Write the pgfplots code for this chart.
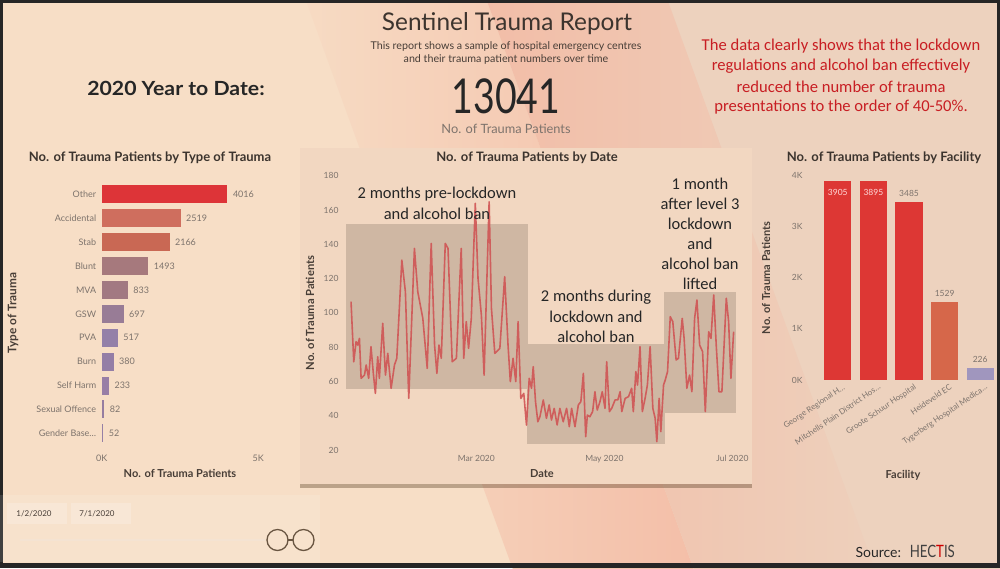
\documentclass[border=0pt]{standalone}
\usepackage{pgfplots}
\pgfplotsset{compat=1.18}
\usepackage{fontspec}
\setmainfont{Lato}
\newfontfamily\calfont{Carlito}
\usetikzlibrary{shadows}
\definecolor{bg}{RGB}{247,222,198}
\definecolor{bgr}{RGB}{237,210,190}
\definecolor{pinkc}{RGB}{243,186,164}
\definecolor{cardc}{RGB}{242,215,193}
\definecolor{rectc}{RGB}{207,183,163}
\definecolor{linec}{RGB}{208,85,85}
\definecolor{titlec}{RGB}{60,52,46}
\definecolor{tickc}{RGB}{125,115,108}
\definecolor{labc}{RGB}{72,62,55}
\definecolor{redtext}{RGB}{200,30,35}
\definecolor{cA}{RGB}{221,52,56}
\definecolor{cB}{RGB}{207,110,94}
\definecolor{cC}{RGB}{201,104,84}
\definecolor{cD}{RGB}{166,121,125}
\definecolor{cE}{RGB}{162,121,130}
\definecolor{cF}{RGB}{152,124,150}
\definecolor{cG}{RGB}{148,128,168}
\definecolor{cH}{RGB}{148,126,166}
\definecolor{cI}{RGB}{152,126,166}
\definecolor{cJ}{RGB}{150,125,160}
\definecolor{cK}{RGB}{150,128,165}
\definecolor{fR}{RGB}{221,55,52}
\definecolor{fO}{RGB}{214,103,74}
\definecolor{fP}{RGB}{160,150,190}
\definecolor{sliderc}{RGB}{105,85,65}
\begin{document}
\begin{tikzpicture}[x=1pt,y=1pt]
\useasboundingbox (0,0) rectangle (1000,-568);
% background
\fill[bg] (0,0) rectangle (1000,-568);
\begin{scope}
\clip (0,0) rectangle (1000,-568);
\begin{scope}[shift={(590,-284)},rotate=20]
  \fill[bgr] (0,-500) rectangle (700,500);
  \shade[left color=bg, right color=pinkc] (-170,-500) rectangle (0,500);
  \shade[left color=pinkc, right color=bgr] (0,-500) rectangle (170,500);
\end{scope}
\end{scope}
% frame
\draw[black!85, line width=3pt] (1.5,-1.5) rectangle (998.5,-566);
\fill[black!85] (0,-563) rectangle (1000,-568);

% header texts
\node[font=\fontsize{24.4}{27}\selectfont, text=titlec] at (507,-24) {Sentinel Trauma Report};
\node[font=\fontsize{10.7}{12}\selectfont, text=labc] at (506,-47) {This report shows a sample of hospital emergency centres};
\node[font=\fontsize{10.7}{12}\selectfont, text=labc] at (506,-59) {and their trauma patient numbers over time};
\node[font=\bfseries\fontsize{19.5}{22}\selectfont, text=black!85, xscale=1.09] at (176,-88) {2020 Year to Date:};
\node[font=\fontsize{48}{50}\selectfont, text=black!85, xscale=0.78] at (506,-96) {13041};
\node[font=\fontsize{12.8}{14}\selectfont, text=tickc] at (506,-129) {No. of Trauma Patients};
\node[font=\calfont\fontsize{16.6}{18}\selectfont, text=redtext] at (841,-46) {The data clearly shows that the lockdown};
\node[font=\calfont\fontsize{16.6}{18}\selectfont, text=redtext] at (841,-66) {regulations and alcohol ban effectively};
\node[font=\calfont\fontsize{16.6}{18}\selectfont, text=redtext] at (841,-87) {reduced the number of trauma};
\node[font=\calfont\fontsize{16.6}{18}\selectfont, text=redtext] at (841,-107) {presentations to the order of 40-50\%.};

% panel titles
\node[font=\bfseries\fontsize{13}{15}\selectfont, text=titlec] at (150,-158) {No. of Trauma Patients by Type of Trauma};
\node[font=\bfseries\fontsize{13}{15}\selectfont, text=titlec] at (884,-158) {No. of Trauma Patients by Facility};

% ---------- left chart ----------
\begin{axis}[
  at={(101.7pt,-445.25pt)}, anchor=south west, scale only axis,
  width=156.6pt, height=262.9pt,
  xbar, bar shift=0pt, bar width=18pt,
  xmin=0, xmax=5000, ymin=-0.5, ymax=10.5,
  axis line style={draw=none}, major tick length=0pt,
  xtick={0,5000}, xticklabels={0K,5K},
  ytick={0,1,2,3,4,5,6,7,8,9,10},
  yticklabels={{Gender Base\ldots},{Sexual Offence},{Self Harm},{Burn},{PVA},{GSW},{MVA},{Blunt},{Stab},{Accidental},{Other}},
  ticklabel style={font=\fontsize{9}{10}\selectfont, text=tickc},
  yticklabel style={xshift=-2pt},
  xticklabel style={yshift=-6pt},
  point meta=explicit symbolic,
  nodes near coords,
  nodes near coords style={font=\fontsize{9}{10}\selectfont, text=tickc, anchor=west, xshift=2pt},
  clip=false,
]
\addplot[fill=cA, draw=none] coordinates {(4016,10) [4016]};
\addplot[fill=cB, draw=none] coordinates {(2519,9) [2519]};
\addplot[fill=cC, draw=none] coordinates {(2166,8) [2166]};
\addplot[fill=cD, draw=none] coordinates {(1493,7) [1493]};
\addplot[fill=cE, draw=none] coordinates {(833,6) [833]};
\addplot[fill=cF, draw=none] coordinates {(697,5) [697]};
\addplot[fill=cG, draw=none] coordinates {(517,4) [517]};
\addplot[fill=cH, draw=none] coordinates {(380,3) [380]};
\addplot[fill=cI, draw=none] coordinates {(233,2) [233]};
\addplot[fill=cJ, draw=none] coordinates {(82,1) [82]};
\addplot[fill=cK, draw=none] coordinates {(52,0) [52]};
\end{axis}
\node[font=\bfseries\fontsize{11.8}{13}\selectfont, text=labc, rotate=90] at (13,-313) {Type of Trauma};
\node[font=\bfseries\fontsize{11}{13}\selectfont, text=labc] at (180,-473) {No. of Trauma Patients};

% ---------- center card ----------
\fill[cardc, drop shadow={shadow xshift=0pt, shadow yshift=-4pt, opacity=0.35, fill=black!60!brown}] (300,-148) rectangle (752,-484);
\node[font=\bfseries\fontsize{13}{15}\selectfont, text=titlec] at (527,-158) {No. of Trauma Patients by Date};
\begin{axis}[
  at={(346pt,-450pt)}, anchor=south west, scale only axis,
  width=391pt, height=274.3pt,
  xmin=-2.1, xmax=184.2, ymin=20, ymax=180,
  axis line style={draw=none}, major tick length=0pt,
  ytick={20,40,60,80,100,120,140,160,180},
  xtick={60,121,182}, xticklabels={Mar 2020, May 2020, Jul 2020},
  /pgf/number format/assume math mode=true,
  ticklabel style={font=\fontsize{8.5}{10}\selectfont, text=tickc},
  yticklabel style={xshift=-4pt},
  xticklabel style={yshift=-2pt},
]
\addplot[fill=rectc, draw=none] coordinates {(-2.1,55.3)(84.4,55.3)(84.4,151.6)(-2.1,151.6)} -- cycle;
\addplot[fill=rectc, draw=none] coordinates {(83.9,23.4)(150.0,23.4)(150.0,81.6)(83.9,81.6)} -- cycle;
\addplot[fill=rectc, draw=none] coordinates {(149.5,41.6)(183.9,41.6)(183.9,112.3)(149.5,112.3)} -- cycle;
\addplot[linec, line width=1.6pt, line join=round, opacity=0.9] coordinates {
(0.3,106.5)(1.6,71.5)(2.7,83.2)(3.5,81.2)(4.3,85.1)(5.1,61.8)(6.7,63.7)(7.5,69.6)(8.7,61.8)(9.8,80.3)
(11.0,63.7)(11.9,53.0)(13.0,74.4)(13.8,61.8)(15.4,93.9)(16.7,63.7)(17.8,76.4)(19.4,56.0)(21.0,69.6)(22.1,73.5)
(24.5,130.8)(26.2,112.3)(27.8,50.1)(30.5,137.6)(32.1,112.3)(34.5,96.8)(36.6,67.6)(38.5,140.5)(40.1,81.2)(41.2,64.7)
(42.2,81.2)(43.3,73.5)(45.2,140.5)(46.5,137.6)(48.5,71.5)(50.5,73.5)(52.8,137.6)(54.0,73.5)(55.2,94.9)(56.3,79.3)
(57.6,96.8)(59.5,163.9)(60.8,120.1)(62.4,98.7)(63.7,63.7)(66.1,164.8)(67.2,102.6)(68.8,76.4)(71.2,79.3)(73.5,121.1)
(75.1,81.2)(76.2,59.9)(77.5,73.5)(78.8,59.9)(79.9,94.9)(81.2,50.1)(82.6,53.0)(83.9,34.6)(85.2,61.8)(86.3,56.0)
(87.1,68.6)(88.2,48.2)(89.3,36.5)(90.3,39.4)(91.9,49.2)(93.4,38.5)(94.7,46.3)(95.8,37.5)(97.1,44.3)(98.5,34.6)
(99.8,44.3)(101.4,36.5)(103.0,44.3)(104.3,33.6)(105.4,44.3)(107.0,33.6)(108.6,46.3)(109.8,48.2)(111.0,64.7)(112.1,27.8)
(112.9,40.4)(114.1,39.4)(115.4,42.4)(116.5,54.0)(117.6,43.3)(118.9,48.2)(120.0,54.0)(121.3,44.3)(122.1,71.5)(123.4,42.4)
(124.5,44.3)(126.1,49.2)(127.4,49.2)(128.5,54.0)(129.3,42.4)(130.9,50.1)(132.5,51.1)(134.0,56.0)(134.8,42.4)(136.0,65.7)
(136.8,57.9)(138.0,80.3)(139.1,42.4)(140.4,50.1)(141.5,57.9)(142.8,80.3)(144.1,44.3)(145.2,38.5)(146.0,24.9)(147.1,50.1)
(147.9,30.7)(149.2,57.9)(150.0,60.8)(151.1,65.7)(152.4,97.8)(153.6,94.9)(155.2,72.5)(156.3,73.5)(158.1,96.8)(159.0,85.1)
(160.3,56.0)(161.6,63.7)(162.7,54.0)(164.0,96.8)(165.1,107.5)(166.4,81.2)(167.8,77.4)(169.1,42.4)(170.7,89.0)(171.8,85.1)
(173.1,110.4)(174.3,81.2)(175.6,54.0)(177.0,54.0)(179.1,108.5)(180.2,94.9)(181.3,61.8)(182.6,89.0)
};
\end{axis}
\node[font=\bfseries\fontsize{11.2}{13}\selectfont, text=labc, rotate=90] at (310,-313) {No. of Trauma Patients};
\node[font=\bfseries\fontsize{11}{13}\selectfont, text=labc] at (542,-474) {Date};
% annotations
\node[font=\calfont\fontsize{16.5}{18}\selectfont, text=black!85] at (437,-194) {2 months pre-lockdown};
\node[font=\calfont\fontsize{16.5}{18}\selectfont, text=black!85] at (437,-214) {and alcohol ban};
\node[font=\calfont\fontsize{16.5}{18}\selectfont, text=black!85] at (596,-297) {2 months during};
\node[font=\calfont\fontsize{16.5}{18}\selectfont, text=black!85] at (596,-317) {lockdown and};
\node[font=\calfont\fontsize{16.5}{18}\selectfont, text=black!85] at (596,-337) {alcohol ban};
\node[font=\calfont\fontsize{16.5}{18}\selectfont, text=black!85] at (700,-184) {1 month};
\node[font=\calfont\fontsize{16.5}{18}\selectfont, text=black!85] at (700,-204) {after level 3};
\node[font=\calfont\fontsize{16.5}{18}\selectfont, text=black!85] at (700,-224) {lockdown};
\node[font=\calfont\fontsize{16.5}{18}\selectfont, text=black!85] at (700,-244) {and};
\node[font=\calfont\fontsize{16.5}{18}\selectfont, text=black!85] at (700,-264) {alcohol ban};
\node[font=\calfont\fontsize{16.5}{18}\selectfont, text=black!85] at (700,-284) {lifted};

% ---------- right chart ----------
\begin{axis}[
  at={(820pt,-380pt)}, anchor=south west, scale only axis,
  width=178pt, height=204.3pt,
  ybar, bar shift=0pt, bar width=27.3pt,
  xmin=-0.5, xmax=4.5, ymin=0, ymax=4000,
  axis line style={draw=none}, major tick length=0pt,
  ytick={0,1000,2000,3000,4000}, yticklabels={0K,1K,2K,3K,4K},
  xtick={0,1,2,3,4},
  xticklabels={{George Regional H\ldots},{Mitchells Plain District Hos\ldots},{Groote Schuur Hospital},{Heideveld EC},{Tygerberg Hospital Medica\ldots}},
  ticklabel style={font=\fontsize{8.5}{10}\selectfont, text=tickc},
  yticklabel style={xshift=-14pt},
  xticklabel style={font=\fontsize{8}{9}\selectfont, rotate=34, anchor=north east, xshift=5pt, yshift=-2pt},
  point meta=explicit symbolic,
  clip=false,
]
\addplot[fill=fR, draw=none, nodes near coords, nodes near coords style={font=\fontsize{8.5}{10}\selectfont, text=white!85!red, anchor=north, yshift=-5pt}] coordinates {(0,3905) [3905]};
\addplot[fill=fR, draw=none, nodes near coords, nodes near coords style={font=\fontsize{8.5}{10}\selectfont, text=white!85!red, anchor=north, yshift=-5pt}] coordinates {(1,3895) [3895]};
\addplot[fill=fR, draw=none, nodes near coords, nodes near coords style={font=\fontsize{8.5}{10}\selectfont, text=tickc, anchor=south, yshift=2pt}] coordinates {(2,3485) [3485]};
\addplot[fill=fO, draw=none, nodes near coords, nodes near coords style={font=\fontsize{8.5}{10}\selectfont, text=tickc, anchor=south, yshift=2pt}] coordinates {(3,1529) [1529]};
\addplot[fill=fP, draw=none, nodes near coords, nodes near coords style={font=\fontsize{8.5}{10}\selectfont, text=tickc, anchor=south, yshift=2pt}] coordinates {(4,226) [226]};
\end{axis}
\node[font=\bfseries\fontsize{11}{13}\selectfont, text=labc, rotate=90] at (766,-278) {No. of Trauma Patients};
\node[font=\bfseries\fontsize{11}{13}\selectfont, text=labc] at (903,-475) {Facility};

% ---------- bottom slicer ----------
\fill[white, opacity=0.12] (0,-495) rectangle (320,-562);
\fill[white, opacity=0.2] (7,-503) rectangle (67,-524);
\fill[white, opacity=0.2] (71,-503) rectangle (131,-524);
\node[font=\fontsize{8}{9}\selectfont, text=labc] at (34,-514) {1/2/2020};
\node[font=\fontsize{8}{9}\selectfont, text=labc] at (97,-514) {7/1/2020};
\draw[white!80!brown, opacity=0.5, line width=1.5pt] (20,-540) -- (265,-540);
\draw[sliderc, line width=2.5pt] (288,-540) -- (293,-540);
\draw[sliderc, line width=1.3pt] (277.5,-540) circle (10.5pt);
\draw[sliderc, line width=1.3pt] (303.5,-540) circle (10.5pt);
\node[font=\fontsize{14}{16}\selectfont, text=black!85, anchor=west] at (852,-552) {Source:};
\node[font=\fontsize{17}{19}\selectfont, text=black!75, anchor=west, xscale=0.78] at (907,-551) {HEC\textcolor{red!80!black}{T}IS};
\end{tikzpicture}
\end{document}
